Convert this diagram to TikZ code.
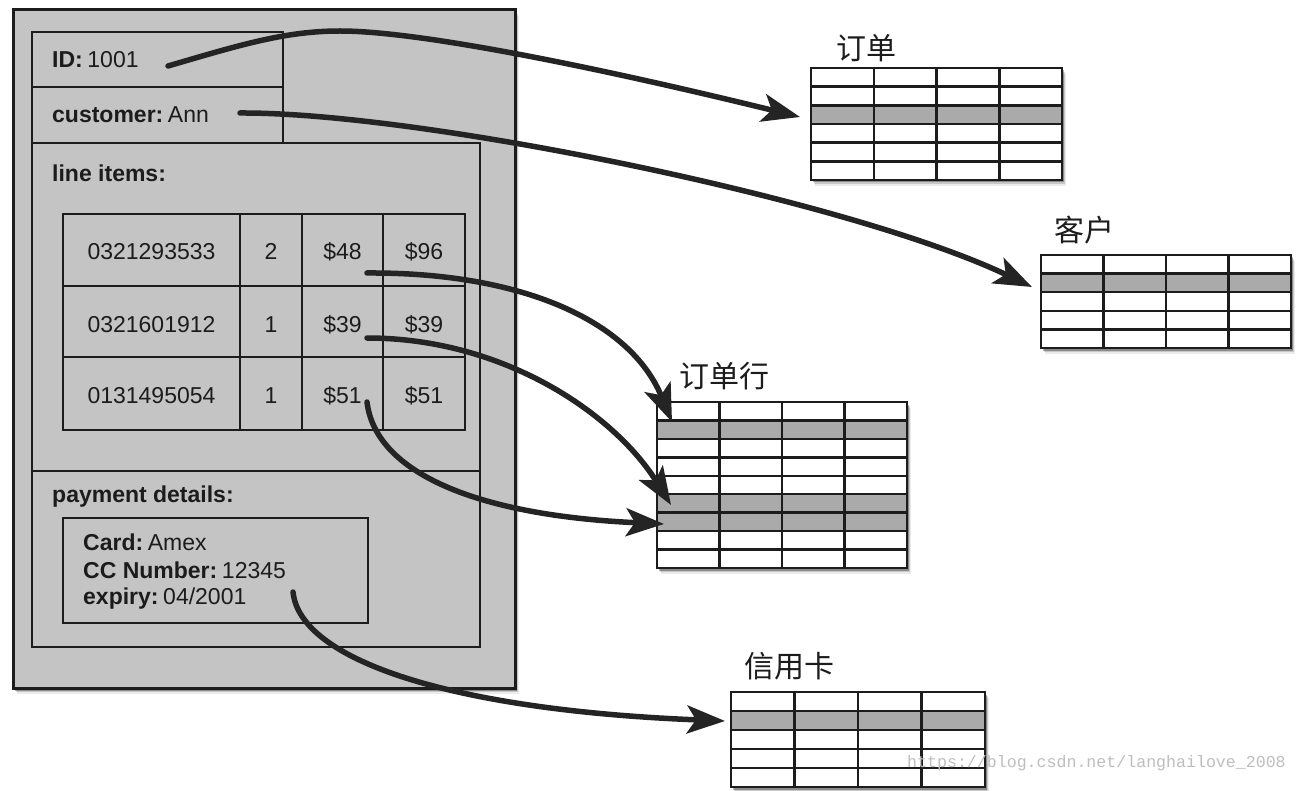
\documentclass[tikz,border=0pt]{standalone}
\usepackage{fontspec}
\setmainfont{Liberation Sans}
\newfontfamily\cjk{Noto Sans CJK SC}
\newfontfamily\wmfont{Liberation Mono}
\usetikzlibrary{arrows.meta,shadows,calc}
\definecolor{boxgray}{RGB}{196,196,196}
\definecolor{rowgray}{RGB}{170,170,170}
\definecolor{ink}{RGB}{28,28,28}
\definecolor{arrowink}{RGB}{36,36,36}
\definecolor{wmgray}{RGB}{190,190,190}
\tikzset{
  softshadow/.style={drop shadow={shadow xshift=4pt,shadow yshift=-6pt,opacity=.08,fill=black},
                     drop shadow={shadow xshift=2.5pt,shadow yshift=-4pt,opacity=.15,fill=black},
                     drop shadow={shadow xshift=1.5pt,shadow yshift=-2.5pt,opacity=.3,fill=black}},
  panel/.style={draw=ink, fill=boxgray, line width=3pt, softshadow},
  subpanel/.style={draw=ink, line width=2pt},
  dbbox/.style={draw=ink, fill=white, line width=2.5pt, anchor=north west, inner sep=0pt, outer sep=0pt, softshadow},
  gridln/.style={draw=ink, line width=2.5pt},
  itemln/.style={draw=ink, line width=2pt},
  lbl/.style={font=\fontsize{23}{27}\selectfont, inner sep=0pt, text=ink, anchor=base west},
  celltxt/.style={font=\fontsize{23}{27}\selectfont, inner sep=0pt, text=ink, anchor=base},
  cjklbl/.style={font=\cjk\fontsize{30}{34}\selectfont, inner sep=0pt, text=ink, anchor=west},
  watermark/.style={font=\wmfont\fontsize{16.6}{20}\selectfont, inner sep=0pt, text=wmgray, anchor=base west},
  link/.style={draw=arrowink, line width=5.5pt, line cap=round, -{Stealth[length=38pt,width=28pt,inset=9pt]}},
}
\newcommand\rectnode[6]{%
  \pgfmathsetmacro\rnw{#4-#2}%
  \pgfmathsetmacro\rnh{#5-#3}%
  \node[#6, anchor=north west, inner sep=0pt, outer sep=0pt, minimum width=\rnw pt, minimum height=\rnh pt] (#1) at (#2,#3) {};%
}
\newcommand\dbtable[7]{%
  \pgfmathsetmacro\tw{#4-#2}%
  \pgfmathsetmacro\tht{#5-#3}%
  \pgfmathsetmacro\rowh{(#5-#3)/#6}%
  \node[dbbox, minimum width=\tw pt, minimum height=\tht pt] (#1) at (#2,#3) {};%
  \foreach \r in {#7}{\fill[rowgray] (#2,{#3+(\r-1)*\rowh}) rectangle (#4,{#3+\r*\rowh});}%
  \pgfmathtruncatemacro\nm{#6-1}%
  \foreach \r in {1,...,\nm}{\draw[gridln] (#2,{#3+\r*\rowh}) -- (#4,{#3+\r*\rowh});}%
  \foreach \c in {1,2,3}{\draw[gridln] ({#2+\c*\tw/4},#3) -- ({#2+\c*\tw/4},#5);}%
  \draw[gridln] (#1.north west) rectangle (#1.south east);%
}
\begin{document}
\begin{tikzpicture}[x=1pt,y=-1pt]
\useasboundingbox (0,0) rectangle (1297,791);
\fill[white] (0,0) rectangle (1297,791);

% document aggregate
\rectnode{doc}{13}{10}{515}{688}{panel}
\rectnode{idbox}{32}{32}{283}{87}{subpanel}
\rectnode{custbox}{32}{87}{283}{143}{subpanel}
\rectnode{itemsbox}{32}{143}{480}{471}{subpanel}
\rectnode{paybox}{32}{471}{480}{647}{subpanel}
\rectnode{itemtable}{63}{214}{465}{430}{subpanel}
\rectnode{cardbox}{63}{518}{368}{623}{subpanel}
\draw[itemln] (240,214) -- (240,430);
\draw[itemln] (302,214) -- (302,430);
\draw[itemln] (383,214) -- (383,430);
\draw[itemln] (63,286) -- (465,286);
\draw[itemln] (63,357) -- (465,357);

\node[lbl] (tid) at (52,68) {\textbf{ID:}\hspace{0.2em}1001};
\node[lbl] (tcust) at (52,123) {\textbf{customer:}\hspace{0.2em}Ann};
\node[lbl] (titems) at (52,182) {\textbf{line items:}};
\node[lbl] (tpay) at (52,502) {\textbf{payment details:}};
\node[lbl] (tcard) at (83,550) {\textbf{Card:}\hspace{0.2em}Amex};
\node[lbl] (tcc) at (83,578) {\textbf{CC Number:}\hspace{0.2em}12345};
\node[lbl] (texp) at (83,604) {\textbf{expiry:}\hspace{0.2em}04/2001};

\node[celltxt] (r1a) at (151.5,260) {0321293533};
\node[celltxt] (r1b) at (271,260) {2};
\node[celltxt] (r1c) at (342.5,260) {\$48};
\node[celltxt] (r1d) at (424,260) {\$96};
\node[celltxt] (r2a) at (151.5,332) {0321601912};
\node[celltxt] (r2b) at (271,332) {1};
\node[celltxt] (r2c) at (342.5,332) {\$39};
\node[celltxt] (r2d) at (424,332) {\$39};
\node[celltxt] (r3a) at (151.5,403) {0131495054};
\node[celltxt] (r3b) at (271,403) {1};
\node[celltxt] (r3c) at (342.5,403) {\$51};
\node[celltxt] (r3d) at (424,403) {\$51};

% relational tables
\node[cjklbl] (lorders) at (836,48) {订单};
\dbtable{orders}{811}{68}{1062}{180}{6}{3}
\node[cjklbl] (lcust) at (1054,230) {客户};
\dbtable{customers}{1041}{255}{1291}{348}{5}{2}
\node[cjklbl] (llines) at (679,376) {订单行};
\dbtable{orderlines}{657}{402}{907}{568}{9}{2,6,7}
\node[cjklbl] (lcards) at (744,666) {信用卡};
\dbtable{cards}{731}{692}{985}{787}{5}{2}

\node[watermark] (wm) at (907,767) {https://blog.csdn.net/langhailove\_2008};

% connectors
\coordinate (sid) at (168,66);
\coordinate (scust) at (240,113);
\coordinate (s48) at (367,273);
\coordinate (s39) at (367,338);
\coordinate (s51) at (367,402);
\coordinate (sexp) at (293,592);
\coordinate (tord) at (800,117);
\coordinate (tcus) at (1032,287);
\coordinate (tl1) at (672,422);
\coordinate (tl2) at (671,505);
\coordinate (tl3) at (664,524);
\coordinate (tcc) at (725,721);

\draw[link] (sid) .. controls (240,45) and (285,31) .. (340,31) .. controls (420,31) and (600,68) .. (tord);
\draw[link] (scust) .. controls (420,112) and (850,200) .. (tcus);
\draw[link] (s48) .. controls (520,272) and (630,320) .. (tl1);
\draw[link] (s39) .. controls (505,338) and (615,415) .. (tl2);
\draw[link] (s51) .. controls (375,470) and (470,515) .. (tl3);
\draw[link] (sexp) .. controls (300,660) and (450,710) .. (tcc);
\end{tikzpicture}
\end{document}
